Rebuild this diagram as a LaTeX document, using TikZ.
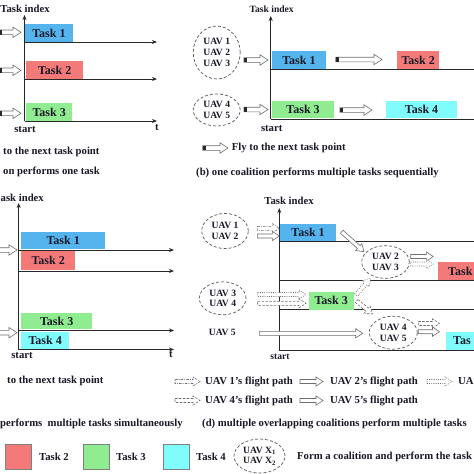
\documentclass[tikz,border=0pt]{standalone}
\usepackage{fontspec}
\setmainfont{Liberation Serif}
\usetikzlibrary{shapes.geometric,calc,arrows.meta}
\definecolor{tblue}{RGB}{85,180,238}
\definecolor{tred}{RGB}{244,122,122}
\definecolor{tgreen}{RGB}{144,236,144}
\definecolor{tcyan}{RGB}{128,252,252}
\definecolor{ink}{RGB}{25,25,40}
\definecolor{axisc}{RGB}{40,40,40}
\definecolor{arrc}{RGB}{110,110,110}
\tikzset{
  lbl/.style={font=\fontsize{10.7}{12}\selectfont\bfseries, text=ink, inner sep=0pt},
  smalllbl/.style={font=\fontsize{9.6}{11}\selectfont\bfseries, text=ink, inner sep=0pt},
  tasklbl/.style={font=\fontsize{12}{14}\selectfont\bfseries, text=ink, inner sep=0pt},
  tbox/.style={rectangle, inner sep=0pt, anchor=north west, tasklbl},
  legsq/.style={rectangle, draw=gray, line width=0.8pt, minimum width=26pt, minimum height=25pt, inner sep=0pt},
  axisln/.style={draw=axisc, line width=1pt},
  axarrow/.style={axisln, -{Stealth[length=5pt,width=4pt]}},
  uav/.style={ellipse, draw=gray!70!black, dash pattern=on 3pt off 2pt, line width=0.7pt, inner sep=0pt, align=center, font=\fontsize{9.6}{10.6}\selectfont\bfseries, text=ink},
  hollow/.style={draw=arrc, fill=white, line width=0.6pt, line join=miter},
  pdashdot/.style={dash pattern=on 2.5pt off 1.2pt on 0.8pt off 1.2pt},
  pdotted/.style={dash pattern=on 0.9pt off 1.3pt},
  pdashed/.style={dash pattern=on 2.5pt off 1.4pt},
}
% generic hollow block arrow: #1 shaft half width, #2 head half width, #3 head length, #4 style, #5 from, #6 to
\newcommand\blockarrow[6]{%
  \path let \p1=($(#6)-(#5)$) in \pgfextra{\pgfmathsetmacro\harrL{veclen(\x1,\y1)}\pgfmathsetmacro\harrA{atan2(\y1,\x1)}\global\let\HL\harrL\global\let\HA\harrA};
  \begin{scope}[shift={(#5)}, rotate=\HA]
    \draw[hollow,#4] (0,-#1) -- ({\HL-#3},-#1) -- ({\HL-#3},-#2) -- (\HL,0) -- ({\HL-#3},#2) -- ({\HL-#3},#1) -- (0,#1) -- cycle;
  \end{scope}}
\newcommand\harr[3][]{\blockarrow{2}{4.6}{7}{#1}{#2}{#3}}
\newcommand\flyarr[2]{%
  \blockarrow{2.3}{5.2}{8}{}{#1}{#2}%
  \begin{scope}[shift={(#1)}, rotate=\HA]
    \fill[axisc] (0,-2.3) rectangle (2.8,2.3);
  \end{scope}}
\begin{document}
\begin{tikzpicture}[x=1pt,y=-1pt]
\useasboundingbox (0,0) rectangle (474,474);
\clip (0,0) rectangle (474,474);
\fill[white] (0,0) rectangle (474,474);

% ---------------- panel (a) ----------------
\node[lbl] (aidx) at (25,9) {Task index};
\draw[axarrow] (24.5,121) -- (24.5,15);
\draw[axarrow] (24.5,121) -- (157,121);
\node[tbox, fill=tblue, minimum width=48.5, minimum height=18] (a1) at (24.5,24) {Task 1};
\draw[axarrow] (24.5,42) -- (157,42);
\node[tbox, fill=tred, minimum width=57, minimum height=18] (a2) at (26,61) {Task 2};
\draw[axarrow] (24.5,79) -- (157,79);
\node[tbox, fill=tgreen, minimum width=46, minimum height=17.5] (a3) at (26,103) {Task 3};
\flyarr{-1,32.3}{21,32.3}
\flyarr{-1,70.3}{21,70.3}
\flyarr{-1,113.3}{21,113.3}
\node[lbl] (astart) at (25,130) {start};
\node[lbl] (at) at (157,128) {t};
\node[lbl, anchor=west] (aleg) at (3,152) {to the next task point};
\node[lbl, anchor=west] (acap) at (3,172) {on performs one task};

% ---------------- panel (b) ----------------
\node[smalllbl] (bidx) at (271.7,9) {Task index};
\draw[axarrow] (270.7,119) -- (270.7,16);
\draw[axisln] (270.7,119) -- (476,119);
\draw[axisln] (270.7,69) -- (476,69);
\node[uav, minimum width=47, minimum height=53] (be1) at (216.7,52.5) {UAV 1\\UAV 2\\UAV 3};
\node[uav, minimum width=47, minimum height=32] (be2) at (216.7,110) {UAV 4\\UAV 5};
\flyarr{244,60}{268,60}
\flyarr{244,109.5}{268,109.5}
\node[tbox, fill=tblue, minimum width=54, minimum height=17.5] (b1) at (271.7,51) {Task 1};
\node[tbox, fill=tred, minimum width=42, minimum height=17.5] (b2) at (397,51) {Task 2};
\flyarr{335.7,59.5}{382,59.5}
\node[tbox, fill=tgreen, minimum width=62.3, minimum height=17] (b3) at (271.7,101) {Task 3};
\node[tbox, fill=tcyan, minimum width=71.3, minimum height=17] (b4) at (385.7,101) {Task 4};
\flyarr{340,110}{372,110}
\node[lbl] (bstart) at (271.7,128.5) {start};
\flyarr{202.7,148}{228,148}
\node[lbl, anchor=west] (bleg) at (231.7,148) {Fly to the next task point};
\node[lbl, anchor=west] (bcap) at (196,172.5) {(b) one coalition performs multiple tasks sequentially};

% ---------------- panel (c) ----------------
\node[lbl, anchor=west] (cidx) at (0.5,198) {ask index};
\draw[axarrow] (18.7,349.5) -- (18.7,203);
\draw[axarrow] (18.7,349.5) -- (174,349.5);
\node[tbox, fill=tblue, minimum width=84, minimum height=17] (c1) at (21,231.5) {Task 1};
\draw[axarrow] (18.7,250) -- (174,250);
\node[tbox, fill=tred, minimum width=54, minimum height=18.5] (c2) at (21,251) {Task 2};
\draw[axarrow] (18.7,271) -- (174,271);
\node[tbox, fill=tgreen, minimum width=71, minimum height=16] (c3) at (21,313) {Task 3};
\draw[axarrow] (18.7,330.5) -- (174,330.5);
\node[tbox, fill=tcyan, minimum width=48, minimum height=16.5] (c4) at (21,332) {Task 4};
\blockarrow{2.3}{5.2}{8}{}{-12,250}{17,250}
\blockarrow{2.3}{5.2}{8}{}{-12,332.7}{17,332.7}
\node[lbl] (cstart) at (22,355.5) {start};
\node[lbl] (ct) at (171,355) {t};
\node[lbl, anchor=west] (cleg) at (7,380.5) {to the next task point};
\node[lbl, anchor=west] (ccap) at (0,424.3) {performs\ \ multiple tasks simultaneously};

% ---------------- panel (d) ----------------
\node[lbl] (didx) at (289,201) {Task index};
\draw[axarrow] (279.3,350) -- (279.3,208);
\draw[axisln] (279.3,350) -- (476,350);
\draw[axisln] (279.3,241) -- (476,241);
\draw[axisln] (279.3,280.7) -- (476,280.7);
\draw[axisln] (279.3,309.3) -- (476,309.3);
\node[tbox, fill=tblue, minimum width=55.7, minimum height=17.7] (d1) at (280,223.3) {Task 1};
\node[tbox, fill=tred, minimum width=40, minimum height=18.3] (d2) at (437.7,261.7) {};
\node[tasklbl, anchor=west] (d2l) at (448,271) {Task};
\node[tbox, fill=tgreen, minimum width=45.4, minimum height=17.6] (d3) at (308.3,291.7) {Task 3};
\node[tbox, fill=tcyan, minimum width=32, minimum height=18.3] (d4) at (445.7,331.7) {};
\node[tasklbl, anchor=west] (d4l) at (453,341) {Tas};
\node[uav, minimum width=46.6, minimum height=35] (de1) at (225,231) {UAV 1\\UAV 2};
\node[uav, minimum width=46.7, minimum height=33] (de2) at (222.7,298.3) {UAV 3\\UAV 4};
\node[uav, minimum width=47.6, minimum height=32.7] (de3) at (385.5,262) {UAV 2\\UAV 3};
\node[uav, minimum width=48, minimum height=33] (de4) at (393.3,332.7) {UAV 4\\UAV 5};
\node[smalllbl] (du5) at (222.3,332.3) {UAV 5};
\harr[pdashdot]{257.3,228.3}{279.3,228.3}
\harr{257.3,236}{279.3,236}
\harr{341.7,231.7}{364,251.7}
\harr{410.7,256.5}{433.3,256.5}
\harr[pdotted]{410.7,264}{433.3,264}
\harr[pdotted]{257.7,294.5}{306,294.5}
\harr[pdashed]{257.7,303.3}{306,303.3}
\harr[pdotted]{356.2,295}{370.5,278.3}
\harr[pdashed]{356.7,301}{372.5,314}
\harr{259.3,333.3}{362.7,333.3}
\harr[pdashed]{418.3,323.5}{439.5,323.5}
\harr{418.3,331.7}{439.5,331.7}
\node[smalllbl] (dstart) at (280,356.5) {start};
% legend (d)
\harr[pdashdot]{175,381.5}{200,381.5}
\node[lbl, anchor=west] (l1t) at (205,381.5) {UAV 1's flight path};
\harr{300,381.5}{323,381.5}
\node[lbl, anchor=west] (l2t) at (330,381.5) {UAV 2's flight path};
\harr[pdotted]{427,381.5}{452,381.5}
\node[lbl, anchor=west] (l3t) at (458,381.5) {UA};
\harr[pdashed]{175,400.5}{200,400.5}
\node[lbl, anchor=west] (l4t) at (205,400.5) {UAV 4's flight path};
\harr{300,400.5}{323,400.5}
\node[lbl, anchor=west] (l5t) at (330,400.5) {UAV 5's flight path};
\node[lbl, anchor=west] (dcap) at (202,424.3) {(d) multiple overlapping coalitions perform multiple tasks};

% ---------------- bottom legend ----------------
\node[legsq, fill=tred] (q2) at (18.5,456.5) {};
\node[lbl, anchor=west] (q2t) at (39,456.7) {Task 2};
\node[legsq, fill=tgreen] (q3) at (96,456.5) {};
\node[lbl, anchor=west] (q3t) at (116,456.7) {Task 3};
\node[legsq, fill=tcyan] (q4) at (176,456.5) {};
\node[lbl, anchor=west] (q4t) at (196,456.7) {Task 4};
\node[uav, minimum width=51, minimum height=34] (qe) at (259.5,456) {UAV X\textsubscript{1}\\UAV X\textsubscript{2}};
\node[lbl, anchor=west] (qf) at (297,456.7) {Form a coalition and perform the task};
\end{tikzpicture}
\end{document}
